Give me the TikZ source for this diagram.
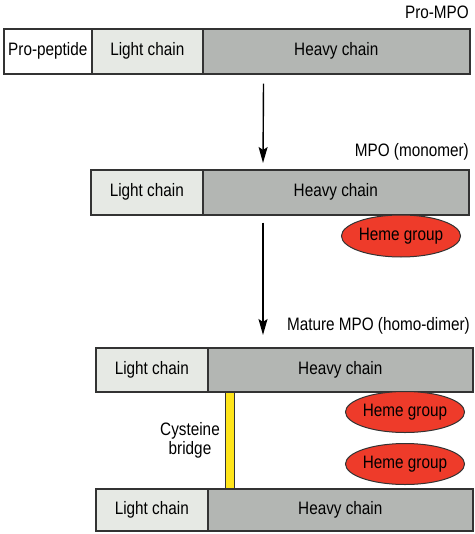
\documentclass[tikz,border=0pt]{standalone}
\usepackage{fontspec}
\setmainfont[FakeStretch=0.85]{Liberation Sans}
\usetikzlibrary{arrows.meta,calc,shapes.geometric}
\definecolor{lightc}{HTML}{E6E9E4}
\definecolor{heavyc}{HTML}{B3B6B3}
\definecolor{hemec}{HTML}{EE3B2A}
\definecolor{bridgec}{HTML}{FFE51A}
\definecolor{edgec}{HTML}{333333}
\begin{document}
\begin{tikzpicture}[x=1pt,y=-1pt,
  txt/.style={font=\fontsize{18}{20}\selectfont},
  seg/.style={txt,draw=edgec,line width=1.6pt,inner sep=0pt,anchor=north west},
  prop/.style={seg,fill=white},
  lightseg/.style={seg,fill=lightc},
  heavyseg/.style={seg,fill=heavyc},
  heme/.style={txt,ellipse,draw=edgec,line width=1pt,fill=hemec,inner sep=0pt},
  lbl/.style={txt,anchor=east,inner sep=0pt},
  arr/.style={line width=1.4pt,-{Stealth[length=16pt,width=9pt,inset=3pt]}}]
\useasboundingbox (0,0) rectangle (474,534);
% row 1
\node[prop,minimum width=88,minimum height=45] (pp1) at (3,28) {Pro-peptide};
\node[lightseg,minimum width=111,minimum height=45] (l1) at (91,28) {Light chain};
\node[heavyseg,minimum width=267,minimum height=45] (h1) at (202,28) {Heavy chain};
\node[lbl] (t1) at (469,12) {Pro-MPO};
% row 2
\node[lightseg,minimum width=112,minimum height=45] (l2) at (90,169) {Light chain};
\node[heavyseg,minimum width=266,minimum height=45] (h2) at (202,169) {Heavy chain};
\node[lbl] (t2) at (469,152) {MPO (monomer)};
\node[heme,minimum width=116,minimum height=42] (e2) at (401,236) {Heme group};
% row 3
\node[lbl] (t3) at (470,326) {Mature MPO (homo-dimer)};
\node[lightseg,minimum width=112,minimum height=44] (l3) at (95,347) {Light chain};
\node[heavyseg,minimum width=265,minimum height=44] (h3) at (207,347) {Heavy chain};
\node[heme,minimum width=115,minimum height=41] (e3) at (405,412) {Heme group};
\node[heme,minimum width=115,minimum height=41] (e4) at (405,464) {Heme group};
\node[lightseg,minimum width=112,minimum height=42] (l4) at (95,488) {Light chain};
\node[heavyseg,minimum width=265,minimum height=42] (h4) at (207,488) {Heavy chain};
% cysteine bridge
\coordinate (bx) at (229.5,0);
\draw[draw=edgec,line width=1pt,fill=bridgec] ($(h3.south west -| bx)+(-4.5,0)$) rectangle ($(h4.north west -| bx)+(4.5,0)$);
\node[txt,align=center,inner sep=0pt] (cb) at (190,440) {Cysteine\\[-1pt]bridge};
% arrows
\coordinate (ax1) at (263.5,0);
\coordinate (ax2) at (263,0);
\draw[arr] ($(h1.south -| ax1)+(0,9)$) -- ($(h2.north -| ax2)+(0,-6)$);
\draw[arr] ($(h2.south -| ax2)+(0,7)$) -- ($(h3.north -| ax2)+(0,-12)$);
\end{tikzpicture}
\end{document}
